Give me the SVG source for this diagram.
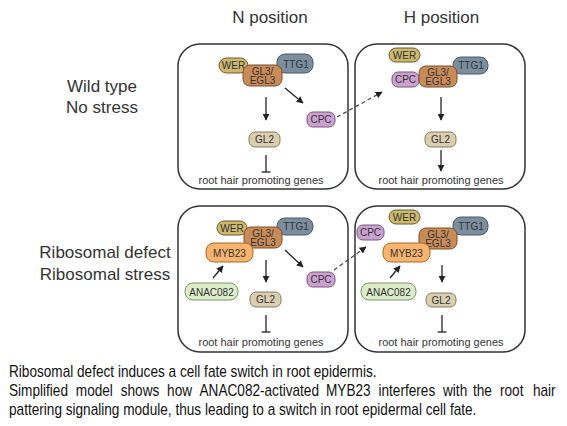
<svg xmlns="http://www.w3.org/2000/svg" width="567" height="426" viewBox="0 0 567 426">
<defs>
<marker id="ah" viewBox="0 0 10 10" refX="9" refY="5" markerWidth="7" markerHeight="7" markerUnits="userSpaceOnUse" orient="auto">
<path d="M0,0 L10,5 L0,10 z" fill="#222"/>
</marker>
<style>
text{font-family:"Liberation Sans",Arial,sans-serif;fill:#333}
.hd{font-size:17px;text-anchor:middle}
.nt{font-size:10px;text-anchor:middle}
.gn{font-size:11px;text-anchor:middle}
.cap{font-size:16px;fill:#111}
.box{fill:#fff;stroke:#333;stroke-width:1.5}
.wer{fill:#cdb86e;stroke:#6b5a2a;stroke-width:1}
.gl3{fill:#c98c58;stroke:#7a4c28;stroke-width:1}
.ttg{fill:#7b8e9e;stroke:#4a5966;stroke-width:1}
.cpc{fill:#c9a2d0;stroke:#7e5486;stroke-width:1}
.gl2{fill:#d9ceb0;stroke:#847a5c;stroke-width:1}
.myb{fill:#f7b46e;stroke:#a66a2e;stroke-width:1}
.ana{fill:#dcebc9;stroke:#7d9468;stroke-width:1}
.ln{stroke:#222;stroke-width:1.3;fill:none}
.ar{stroke:#222;stroke-width:1.3;fill:none;marker-end:url(#ah)}
.da{stroke:#444;stroke-width:1.2;fill:none;stroke-dasharray:4 3;marker-end:url(#ah)}
</style>
</defs>
<rect width="567" height="426" fill="#fff"/>

<g id="headers">
<text class="hd" x="270" y="23">N position</text>
<text class="hd" x="441.5" y="23">H position</text>
<text class="hd" x="102" y="92">Wild type</text>
<text class="hd" x="102" y="113">No stress</text>
<text class="hd" x="105" y="258">Ribosomal defect</text>
<text class="hd" x="105" y="280">Ribosomal stress</text>
</g>

<g id="panels">
<rect id="panel-wt-n" class="box" x="178" y="44" width="170" height="145" rx="22"/>
<rect id="panel-wt-h" class="box" x="355" y="44" width="170" height="145" rx="22"/>
<rect id="panel-rs-n" class="box" x="178" y="206" width="170" height="146" rx="22"/>
<rect id="panel-rs-h" class="box" x="355" y="206" width="170" height="146" rx="22"/>
</g>

<g id="connectors">
<line class="ar" x1="266" y1="97" x2="266" y2="120"/>
<line class="ar" x1="285" y1="88" x2="303" y2="103"/>
<line class="ln" x1="266" y1="155" x2="266" y2="172"/>
<line class="ln" x1="261.5" y1="172" x2="270.5" y2="172"/>
<line class="da" x1="337" y1="117" x2="382" y2="92"/>
<line class="ar" x1="441" y1="97" x2="441" y2="120"/>
<line class="ar" x1="441" y1="150" x2="441" y2="171"/>

<line class="ar" x1="213" y1="278" x2="223" y2="266"/>
<line class="ar" x1="266" y1="260" x2="266" y2="282"/>
<line class="ar" x1="285" y1="250" x2="303" y2="267"/>
<line class="ln" x1="266" y1="315" x2="266" y2="332"/>
<line class="ln" x1="261.5" y1="332" x2="270.5" y2="332"/>
<line class="da" x1="334" y1="270" x2="366" y2="247"/>
<line class="ar" x1="390" y1="278" x2="400" y2="266"/>
<line class="ar" x1="442" y1="265" x2="442" y2="282"/>
<line class="ln" x1="442" y1="315" x2="442" y2="332"/>
<line class="ln" x1="437.5" y1="332" x2="446.5" y2="332"/>
</g>

<!-- Wild type, N position -->
<g id="wt-n-WER"><rect class="wer" x="219" y="58" width="29" height="15" rx="7.5"/><text class="nt" x="233.5" y="69" font-size="9.5">WER</text></g>
<g id="wt-n-TTG1"><rect class="ttg" x="277" y="54" width="36" height="19" rx="8"/><text class="nt" x="296" y="67.5">TTG1</text></g>
<g id="wt-n-GL3"><rect class="gl3" x="243" y="65" width="39" height="21" rx="7"/><text class="nt" x="262.5" y="74.5">GL3/</text><text class="nt" x="262.5" y="84">EGL3</text></g>
<g id="wt-n-CPC"><rect class="cpc" x="307" y="112" width="28" height="15" rx="6"/><text class="nt" x="321" y="123">CPC</text></g>
<g id="wt-n-GL2"><rect class="gl2" x="249" y="132" width="31" height="15" rx="6"/><text class="nt" x="264.5" y="143">GL2</text></g>
<g id="wt-n-genes"><text class="gn" x="261" y="184" textLength="125" lengthAdjust="spacingAndGlyphs">root hair promoting genes</text></g>

<!-- Wild type, H position -->
<g id="wt-h-WER"><rect class="wer" x="389" y="48" width="31" height="14" rx="7"/><text class="nt" x="404.5" y="58.5" font-size="9.5">WER</text></g>
<g id="wt-h-TTG1"><rect class="ttg" x="453" y="57" width="35" height="17" rx="8"/><text class="nt" x="471" y="69">TTG1</text></g>
<g id="wt-h-CPC"><rect class="cpc" x="392" y="72" width="27" height="15" rx="6"/><text class="nt" x="405.5" y="83">CPC</text></g>
<g id="wt-h-GL3"><rect class="gl3" x="419" y="66" width="38" height="21" rx="7"/><text class="nt" x="438" y="75.5">GL3/</text><text class="nt" x="438" y="85">EGL3</text></g>
<g id="wt-h-GL2"><rect class="gl2" x="425" y="132" width="31" height="15" rx="6"/><text class="nt" x="440.5" y="143">GL2</text></g>
<g id="wt-h-genes"><text class="gn" x="441" y="184" textLength="125" lengthAdjust="spacingAndGlyphs">root hair promoting genes</text></g>

<!-- Ribosomal stress, N position -->
<g id="rs-n-WER"><rect class="wer" x="217" y="221" width="30" height="14" rx="7"/><text class="nt" x="232" y="231.5" font-size="9.5">WER</text></g>
<g id="rs-n-TTG1"><rect class="ttg" x="277" y="218" width="36" height="17" rx="8"/><text class="nt" x="296" y="230">TTG1</text></g>
<g id="rs-n-GL3"><rect class="gl3" x="244" y="227" width="38" height="21" rx="7"/><text class="nt" x="263" y="236.5">GL3/</text><text class="nt" x="263" y="246">EGL3</text></g>
<g id="rs-n-MYB23"><rect class="myb" x="206" y="243" width="47" height="19" rx="8"/><text class="nt" x="229.5" y="256.5" font-size="11">MYB23</text></g>
<g id="rs-n-ANAC082"><rect class="ana" x="185" y="283" width="53" height="17" rx="8"/><text class="nt" x="211.5" y="295.5" font-size="10.5">ANAC082</text></g>
<g id="rs-n-CPC"><rect class="cpc" x="307" y="272" width="28" height="15" rx="6"/><text class="nt" x="321" y="283">CPC</text></g>
<g id="rs-n-GL2"><rect class="gl2" x="250" y="292" width="31" height="15" rx="6"/><text class="nt" x="265.5" y="303">GL2</text></g>
<g id="rs-n-genes"><text class="gn" x="261" y="346" textLength="125" lengthAdjust="spacingAndGlyphs">root hair promoting genes</text></g>

<!-- Ribosomal stress, H position -->
<g id="rs-h-WER"><rect class="wer" x="389" y="210" width="31" height="14" rx="7"/><text class="nt" x="404.5" y="220.5" font-size="9.5">WER</text></g>
<g id="rs-h-CPC"><rect class="cpc" x="357" y="225" width="27" height="15" rx="6"/><text class="nt" x="370.5" y="236">CPC</text></g>
<g id="rs-h-TTG1"><rect class="ttg" x="453" y="217" width="35" height="18" rx="8"/><text class="nt" x="471" y="229.5">TTG1</text></g>
<g id="rs-h-GL3"><rect class="gl3" x="419" y="228" width="38" height="21" rx="7"/><text class="nt" x="438" y="237.5">GL3/</text><text class="nt" x="438" y="247">EGL3</text></g>
<g id="rs-h-MYB23"><rect class="myb" x="383" y="243" width="47" height="19" rx="8"/><text class="nt" x="406.5" y="256.5" font-size="11">MYB23</text></g>
<g id="rs-h-ANAC082"><rect class="ana" x="361" y="283" width="55" height="17" rx="8"/><text class="nt" x="388.5" y="295.5" font-size="10.5">ANAC082</text></g>
<g id="rs-h-GL2"><rect class="gl2" x="426" y="293" width="30" height="14" rx="6"/><text class="nt" x="441" y="303.5">GL2</text></g>
<g id="rs-h-genes"><text class="gn" x="441" y="346" textLength="125" lengthAdjust="spacingAndGlyphs">root hair promoting genes</text></g>

<g id="caption" transform="translate(9,0) scale(0.851,1)">
<text class="cap" x="0" y="377">Ribosomal defect induces a cell fate switch in root epidermis.</text>
<text class="cap" y="396"><tspan x="0">Simplified</tspan><tspan x="78.5">model</tspan><tspan x="131.3">shows</tspan><tspan x="185.8">how</tspan><tspan x="223.9">ANAC082-activated</tspan><tspan x="372.5">MYB23</tspan><tspan x="434.2">interferes</tspan><tspan x="510">with</tspan><tspan x="545.2">the</tspan><tspan x="577">root</tspan><tspan x="615.7">hair</tspan></text>
<text class="cap" x="0" y="415">pattering signaling module, thus leading to a switch in root epidermal cell fate.</text>
</g>
</svg>
